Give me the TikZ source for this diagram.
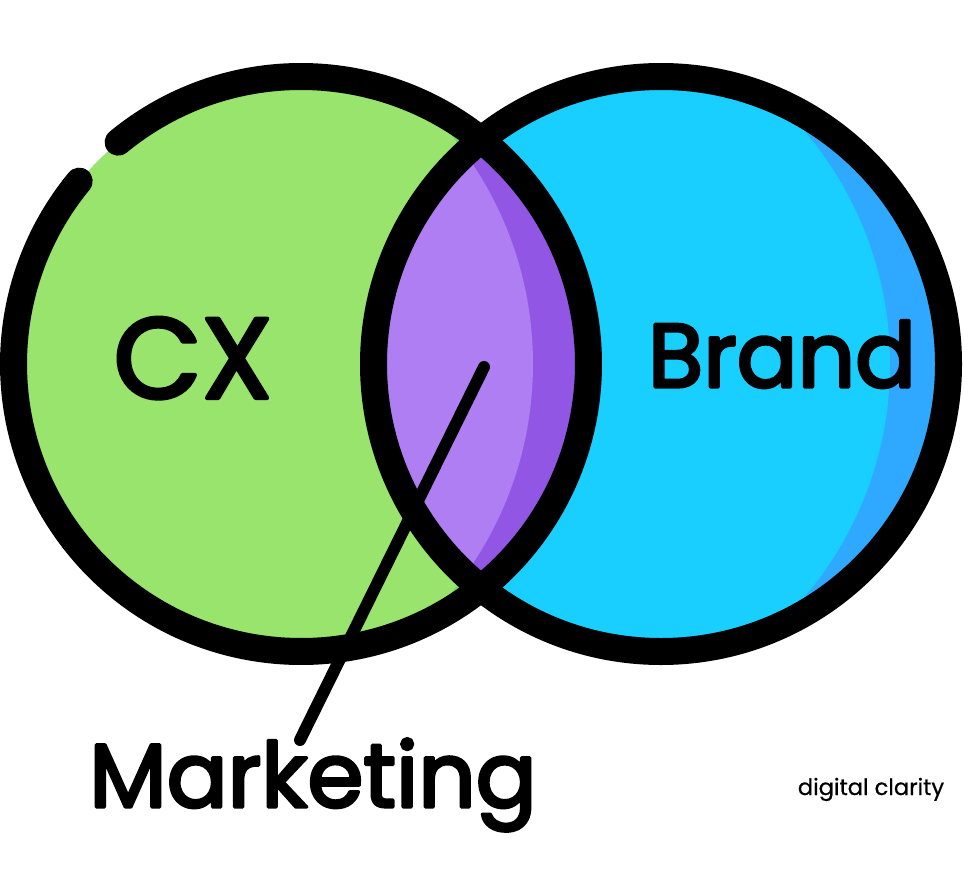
\documentclass[tikz,border=0pt]{standalone}
\usepackage{fontspec}
\setmainfont{Poppins}
\newfontfamily\bigfont[FakeBold=3.5]{Poppins}
\newfontfamily\logofont[FakeBold=0.6]{Poppins}
\newcommand{\roundglyphs}{\special{pdf:code 1 j 1 J}}
\definecolor{greenlight}{HTML}{98E46C}
\definecolor{greendark}{HTML}{6BD66A}
\definecolor{bluelight}{HTML}{18CFFF}
\definecolor{bluedark}{HTML}{2FA8FF}
\definecolor{purplelight}{HTML}{AE7EF2}
\definecolor{purpledark}{HTML}{9157E4}
\tikzset{
  ring/.style={draw=black,line width=27pt,line cap=round},
  pointer/.style={draw=black,line width=12pt,line cap=round},
  biglabel/.style={inner sep=0pt,font=\bigfont\fontsize{90}{90}\selectfont,anchor=base},
  logolabel/.style={inner sep=0pt,font=\logofont\fontsize{22.6}{22.6}\selectfont,anchor=base}
}
\begin{document}
\begin{tikzpicture}[x=1pt,y=-1pt]
\useasboundingbox (0,0) rectangle (972,886);
\fill[white] (0,0) rectangle (972,886);
\coordinate (L) at (301,364);
\coordinate (R) at (661,364);
\coordinate (LS) at (172,364);
\coordinate (RS) at (530,364);
\coordinate (tip) at (484,367);
\coordinate (foot) at (300,740);
% right circle
\fill[bluedark] (R) circle (287pt);
\begin{scope}
  \clip (R) circle (287pt);
  \fill[bluelight] (RS) circle (360pt);
\end{scope}
% left circle
\fill[greendark] (L) circle (287pt);
\begin{scope}
  \clip (L) circle (287pt);
  \fill[greenlight] (LS) circle (361pt);
\end{scope}
% overlap
\begin{scope}
  \clip (L) circle (287pt);
  \clip (R) circle (287pt);
  \fill[purpledark] (L) circle (287pt);
  \fill[purplelight] (LS) circle (361pt);
\end{scope}
% outlines
\draw[ring] (R) circle (287.5pt);
\draw[ring] (L) ++(129.5:287.5pt) arc[start angle=129.5,end angle=-219.5,radius=287.5pt];
% pointer
\draw[pointer] (tip) -- (foot);
% labels
\node[biglabel,font=\bigfont\fontsize{114}{114}\selectfont] (cx) at (193,398) {\roundglyphs CX};
\node[biglabel] (brand) at (782,387) {\roundglyphs Brand};
\node[biglabel] (marketing) at (313,807) {\roundglyphs Marketing};
\node[logolabel] (logo) at (871,795) {digital clarity};
\end{tikzpicture}
\end{document}
